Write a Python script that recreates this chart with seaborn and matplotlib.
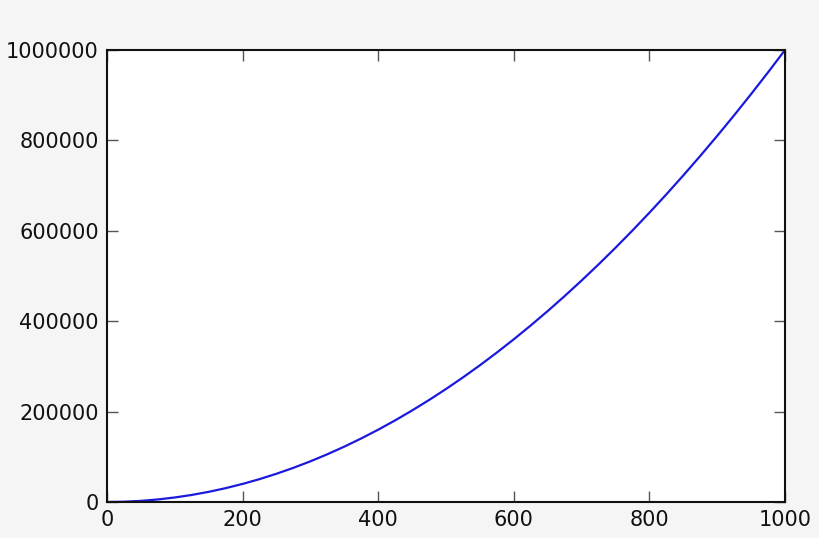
import matplotlib
matplotlib.use("Agg")
import matplotlib.pyplot as plt
import seaborn as sns
import pandas as pd

x_values = [0, 25, 50, 75, 100, 125, 150, 175, 200, 225, 250, 275, 300, 325,
            350, 375, 400, 425, 450, 475, 500, 525, 550, 575, 600, 625, 650,
            675, 700, 725, 750, 775, 800, 825, 850, 875, 900, 925, 950, 975,
            1000]
y_values = [0, 625, 2500, 5625, 10000, 15625, 22500, 30625, 40000, 50625,
            62500, 75625, 90000, 105625, 122500, 140625, 160000, 180625,
            202500, 225625, 250000, 275625, 302500, 330625, 360000, 390625,
            422500, 455625, 490000, 525625, 562500, 600625, 640000, 680625,
            722500, 765625, 810000, 855625, 902500, 950625, 1000000]
x_ticks = [0, 200, 400, 600, 800, 1000]
y_ticks = [0, 200000, 400000, 600000, 800000, 1000000]

sns.set_theme(style="white")
plt.rcParams['font.family'] = ['DejaVu Sans']

df = pd.DataFrame({"x": x_values, "y": y_values})

fig = plt.figure(figsize=(8.2, 5.38), dpi=100, facecolor="#f5f5f5")
ax = fig.add_axes([107/820, 1 - 502/538, (785-107)/820, (502-50)/538])
ax.set_facecolor("white")

sns.lineplot(data=df, x="x", y="y", ax=ax, color="#1a1adf", linewidth=1.6)

ax.set_xlim(0, 1000)
ax.set_ylim(0, 1000000)
ax.set_xticks(x_ticks)
ax.set_yticks(y_ticks)
ax.set_xticklabels([str(t) for t in x_ticks], fontsize=15, color="#111111")
ax.set_yticklabels([str(t) for t in y_ticks], fontsize=15, color="#111111")
ax.set_xlabel("")
ax.set_ylabel("")
ax.tick_params(direction="in", length=8, width=1, color="#555555",
               top=True, right=True, bottom=True, left=True, pad=6)
for s in ax.spines.values():
    s.set_visible(True)
    s.set_color("#111111")
    s.set_linewidth(1.5)

fig.savefig("out.png", dpi=100, facecolor=fig.get_facecolor())
